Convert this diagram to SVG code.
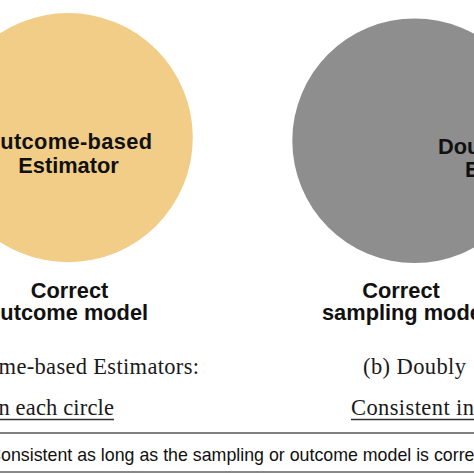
<svg xmlns="http://www.w3.org/2000/svg" width="474" height="474" viewBox="0 0 474 474">
  <style>
    .lbl { font-family: "Liberation Sans", Arial, Helvetica, sans-serif; font-weight: bold; font-size: 21.8px; fill: #111; }
    .cap { font-family: "Liberation Serif", "Times New Roman", serif; font-size: 22.5px; fill: #1a1a1a; }
    .row { font-family: "Liberation Sans", Arial, Helvetica, sans-serif; font-size: 17.8px; fill: #111; }
  </style>
  <rect x="0" y="0" width="474" height="474" fill="#ffffff"/>

  <g id="outcome-circle">
    <circle cx="68.2" cy="137.6" r="124.6" fill="#F1CD87"/>
    <text class="lbl" x="-17" y="149" textLength="169" lengthAdjust="spacing">Outcome-based</text>
    <text class="lbl" x="68.5" y="172.5" text-anchor="middle">Estimator</text>
  </g>

  <g id="doubly-circle">
    <circle cx="414.6" cy="140.7" r="122.3" fill="#8E8E8E"/>
    <text class="lbl" x="438" y="154">Doubly Robust</text>
    <text class="lbl" x="465" y="177">Estimator</text>
  </g>

  <g id="outcome-label">
    <text class="lbl"><tspan x="69.5" y="298" text-anchor="middle">Correct</tspan><tspan x="-13" y="320">outcome model</tspan></text>
  </g>

  <g id="sampling-label">
    <text class="lbl"><tspan x="401" y="298" text-anchor="middle">Correct</tspan><tspan x="322" y="320">sampling model</tspan></text>
  </g>

  <g id="caption-a">
    <text class="cap" x="-58" y="374" textLength="257" lengthAdjust="spacing">Outcome-based Estimators:</text>
    <text class="cap" x="-8" y="415" textLength="122" lengthAdjust="spacing">in each circle</text>
    <line x1="0" y1="419.5" x2="114" y2="419.5" stroke="#333" stroke-width="1.5"/>
  </g>

  <g id="caption-b">
    <text class="cap" x="363" y="374" textLength="103" lengthAdjust="spacing">(b) Doubly</text>
    <text class="cap" x="351" y="415" textLength="123" lengthAdjust="spacing">Consistent in</text>
    <line x1="351" y1="419.5" x2="474" y2="419.5" stroke="#333" stroke-width="1.5"/>
  </g>

  <g id="table-row">
    <line x1="0" y1="433" x2="474" y2="433" stroke="#555" stroke-width="1.4"/>
    <text class="row" x="-11.8" y="461">Consistent as long as the sampling or outcome model is correct</text>
    <line x1="0" y1="472" x2="474" y2="472" stroke="#888" stroke-width="2.2"/>
  </g>
</svg>
